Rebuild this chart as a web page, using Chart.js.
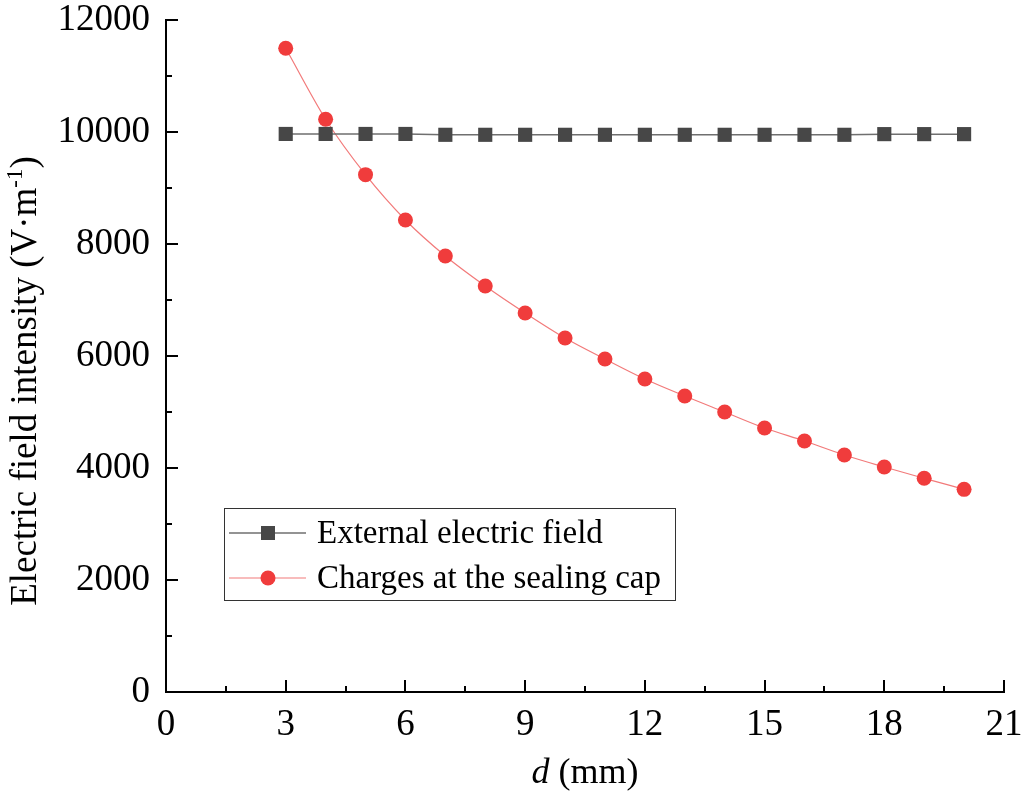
<!DOCTYPE html>
<html>
<head>
<meta charset="utf-8">
<script src="https://cdn.jsdelivr.net/npm/chart.js@4.4.1/dist/chart.umd.min.js"></script>
<style>
  html, body { margin: 0; padding: 0; background: #fff; }
  #wrap { width: 1025px; height: 793px; }
</style>
</head>
<body>
<div id="wrap"><canvas id="fieldChart" width="1025" height="793"></canvas></div>
<script>
// Data
var distance = [3, 4, 5, 6, 7, 8, 9, 10, 11, 12, 13, 14, 15, 16, 17, 18, 19, 20];
var externalField = [9965, 9965, 9965, 9965, 9950, 9950, 9950, 9950, 9950, 9950, 9950, 9950, 9950, 9950, 9950, 9962, 9962, 9962];
var capCharges = [11495, 10228, 9238, 8429, 7786, 7250, 6768, 6321, 5946, 5589, 5286, 5000, 4714, 4482, 4232, 4018, 3816, 3619];
var seriesNames = ['External electric field', 'Charges at the sealing cap'];
var xTitle = ['d', ' (mm)'];
var yTitle = ['Electric field intensity (V\u00b7m', '-1', ')'];

var serif = "'Liberation Serif', 'Times New Roman', serif";

function toPoints(xs, ys) {
    return xs.map(function (x, i) { return { x: x, y: ys[i] }; });
}

// inward major/minor ticks, legend box and axis titles
var decorPlugin = {
    id: 'decor',
    afterDraw: function (chart) {
        var ctx = chart.ctx;
        var xs = chart.scales.x, ys = chart.scales.y;
        var area = chart.chartArea;
        ctx.save();
        ctx.strokeStyle = '#000';
        ctx.lineWidth = 2;
        ctx.beginPath();
        for (var v = 0; v <= 21.001; v += 1.5) {
            var px = Math.round(xs.getPixelForValue(v));
            var len = (Math.round(v * 10) % 30 === 0) ? 12 : 6;
            ctx.moveTo(px, area.bottom);
            ctx.lineTo(px, area.bottom - len);
        }
        for (var w = 0; w <= 12000; w += 1000) {
            var py = Math.round(ys.getPixelForValue(w));
            var len2 = (w % 2000 === 0) ? 12 : 6;
            ctx.moveTo(area.left, py);
            ctx.lineTo(area.left + len2, py);
        }
        ctx.stroke();

        // legend
        var bx = 224, by = 508, bw = 451, bh = 92;
        ctx.lineWidth = 1;
        ctx.strokeStyle = '#333';
        ctx.strokeRect(bx + 0.5, by + 0.5, bw, bh);
        ctx.font = '33px ' + serif;
        ctx.fillStyle = '#000';
        ctx.textBaseline = 'alphabetic';
        ctx.textAlign = 'left';
        chart.data.datasets.forEach(function (ds, i) {
            var cy = 533 + i * 45;
            ctx.strokeStyle = ds.borderColor;
            ctx.lineWidth = ds.borderWidth;
            ctx.beginPath();
            ctx.moveTo(229, cy);
            ctx.lineTo(306, cy);
            ctx.stroke();
            ctx.fillStyle = ds.pointBackgroundColor;
            if (ds.pointStyle === 'rect') {
                ctx.fillRect(261, cy - 7, 14, 14);
            } else {
                ctx.beginPath();
                ctx.arc(268, cy, 7.5, 0, Math.PI * 2);
                ctx.fill();
            }
            ctx.fillStyle = '#000';
            ctx.fillText(ds.label, 317, cy + 10);
        });

        // x title with italic d
        ctx.font = 'italic 36px ' + serif;
        var w1 = ctx.measureText(xTitle[0]).width;
        ctx.font = '36px ' + serif;
        var w2 = ctx.measureText(xTitle[1]).width;
        var sx = (area.left + area.right) / 2 - (w1 + w2) / 2;
        ctx.font = 'italic 36px ' + serif;
        ctx.fillText(xTitle[0], sx, 783);
        ctx.font = '36px ' + serif;
        ctx.fillText(xTitle[1], sx + w1, 783);

        // y title with superscript
        ctx.translate(36, 381);
        ctx.rotate(-Math.PI / 2);
        ctx.font = '37px ' + serif;
        var a = ctx.measureText(yTitle[0]).width;
        var c = ctx.measureText(yTitle[2]).width;
        ctx.font = '23px ' + serif;
        var b = ctx.measureText(yTitle[1]).width;
        var start = -(a + b + c) / 2;
        ctx.font = '37px ' + serif;
        ctx.fillText(yTitle[0], start, 0);
        ctx.fillText(yTitle[2], start + a + b, 0);
        ctx.font = '23px ' + serif;
        ctx.fillText(yTitle[1], start + a, -14);
        ctx.restore();
    }
};

var ctxField = document.getElementById('fieldChart').getContext('2d');
new Chart(ctxField, {
    type: 'line',
    data: {
        datasets: [{
            label: seriesNames[0],
            data: toPoints(distance, externalField),
            borderColor: '#6f6f6f',
            borderWidth: 1.5,
            pointStyle: 'rect',
            pointRadius: 10,
            pointBackgroundColor: '#474747',
            pointBorderWidth: 0,
            tension: 0
        }, {
            label: seriesNames[1],
            data: toPoints(distance, capCharges),
            borderColor: '#f27a7a',
            borderWidth: 1.2,
            pointStyle: 'circle',
            pointRadius: 7.5,
            pointBackgroundColor: '#f03c3c',
            pointBorderWidth: 0,
            cubicInterpolationMode: 'monotone'
        }]
    },
    options: {
        responsive: false,
        animation: false,
        layout: { padding: { top: 20, right: 21, left: 0, bottom: 0 } },
        scales: {
            x: {
                type: 'linear',
                min: 0,
                max: 21,
                grid: { display: false, drawTicks: false },
                border: { display: true, color: '#000', width: 2 },
                ticks: {
                    stepSize: 3,
                    padding: 11,
                    color: '#000',
                    font: { family: serif, size: 37 }
                },
                afterFit: function (scale) {
                    scale.height = 101;
                    scale.paddingLeft = 0;
                    scale.paddingRight = 0;
                }
            },
            y: {
                min: 0,
                max: 12000,
                grid: { display: false, drawTicks: false },
                border: { display: true, color: '#000', width: 2 },
                ticks: {
                    stepSize: 2000,
                    padding: 16,
                    color: '#000',
                    font: { family: serif, size: 37 },
                    callback: function (value) { return String(value); }
                },
                afterFit: function (scale) {
                    scale.width = 166;
                    scale.paddingTop = 0;
                    scale.paddingBottom = 0;
                }
            }
        },
        plugins: {
            legend: { display: false },
            tooltip: { enabled: false }
        }
    },
    plugins: [decorPlugin]
});
</script>
</body>
</html>
